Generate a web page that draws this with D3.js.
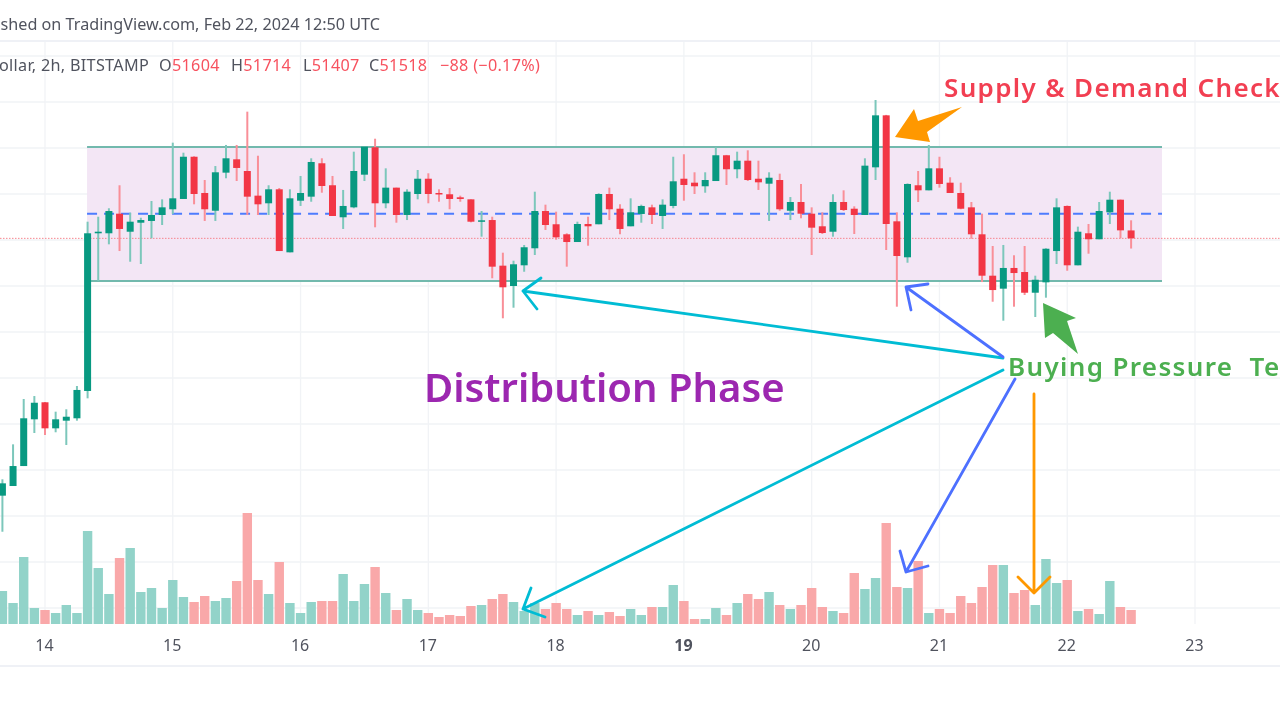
<!DOCTYPE html>
<html>
<head>
<meta charset="utf-8">
<script src="https://cdn.jsdelivr.net/npm/d3@7"></script>
<style>
html, body { margin: 0; padding: 0; background: #fff; overflow: hidden; }
svg { display: block; filter: blur(0.55px); font-family: "Noto Sans", sans-serif; }
</style>
</head>
<body>
<svg width="1280" height="720"></svg>
<script>
// 2h candles, first bar is Feb 13 16:00 UTC
var firstBar = new Date(Date.UTC(2024, 1, 13, 16));

var opens = [48721,48826,49043,49551,49736,49453,49536,49562,49859,51573,51573,51786,51590,51688,51707,51772,51834,51946,52405,52011,51818,52232,52377,52250,51982,51899,52051,51366,51927,51971,52334,52095,51747,51855,52210,52508,51899,52069,51772,52000,52166,52011,51997,51964,51942,51703,51717,51221,51000,51225,51410,51815,51671,51562,51478,51674,51671,52000,51840,51649,51783,51855,51761,51870,52166,52123,52084,52141,52421,52269,52362,52166,52112,52152,51818,51913,51786,51649,51590,51913,51840,51772,52290,52855,51703,51312,52095,52040,52279,52123,52011,51855,51562,51112,50971,51196,51152,50927,51040,51380,51870,51225,51573,51508,51801,51938,51604];
var highs = [48899,49279,49772,49804,49739,49634,49660,49913,51699,51753,51845,52095,51797,51742,51924,51942,52558,52449,52410,52152,52304,52533,52533,52895,52416,52095,52065,52051,52196,52388,52388,52196,52044,52460,52514,52601,52279,52069,52051,52261,52225,52051,52065,51982,51942,51815,51753,51362,51275,51446,52025,51884,51808,51573,51699,51753,52008,52069,51888,51953,51884,51884,51942,52405,52432,52236,52236,52508,52425,52460,52475,52362,52236,52221,51967,52109,51855,51801,51997,52040,51866,52388,53022,52860,51801,52115,52250,52533,52405,52182,52123,51913,51786,51435,51446,51334,51435,51112,51410,51953,51875,51645,51674,51913,52025,51940,51714];
var lows = [48329,48826,49043,49402,49380,49410,49272,49536,49779,51054,51453,51380,51264,51239,51518,51663,51783,51946,51888,51707,51707,52171,52141,51772,51772,51772,51380,51366,51870,51916,52014,51761,51620,51845,52141,51638,51845,51688,51717,51942,51899,51916,51834,51916,51692,51536,51084,50649,50764,51155,51337,51609,51503,51210,51478,51438,51671,51717,51562,51649,51688,51674,51620,51845,51927,52000,52014,52141,52098,52171,52141,52044,51707,51818,51717,51736,51337,51565,51536,51815,51565,51772,52152,51391,50775,51253,51913,52040,52069,52011,51834,51514,51043,50829,50623,50775,50902,50663,50873,51239,51166,51225,51351,51508,51674,51518,51407];
var closes = [48855,49043,49562,49731,49453,49551,49579,49870,51573,51590,51815,51620,51699,51717,51772,51855,51953,52405,52000,51834,52236,52388,52283,51971,51888,52051,51380,51953,52011,52348,52087,51761,51870,52250,52514,51899,52069,51772,52025,52166,52000,52000,51946,51946,51699,51714,51210,50986,51236,51421,51815,51663,51529,51478,51674,51649,52000,51834,51620,51801,51870,51772,51884,52138,52098,52084,52152,52421,52269,52362,52152,52127,52177,51834,51913,51786,51634,51576,51913,51826,51772,52308,52855,51674,51326,52109,52040,52279,52109,52011,51840,51562,51112,50956,51196,51141,50927,51068,51405,51855,51225,51590,51508,51815,51938,51605,51518];
var volumes = [33,21,67,16,14,11,19,11,93,56,30,66,76,32,36,16,44,27,22,28,23,26,43,111,44,30,62,21,11,22,23,23,50,23,40,57,31,14,25,14,11,7,9,8,18,19,25,30,22,13,21,15,21,15,9,13,9,12,8,15,9,17,17,39,23,5,5,16,9,21,30,25,32,19,15,19,36,17,13,11,51,35,46,101,37,36,63,11,15,11,28,21,37,59,59,31,34,19,65,41,44,13,15,10,43,17,14];

var dayTicks = [14,15,16,17,18,19,20,21,22,23];
var priceLevels = d3.range(47500, 54000, 500);

// zone drawn on the chart, in bars and prices
var zone = {fromBar: 7.95, toBar: 108.9, top: 52511, bottom: 51054, mid: 51786};
var lastClose = 51518;

var svg = d3.select("svg");

var x = d3.scaleUtc()
    .domain([new Date(Date.UTC(2024, 1, 14)), new Date(Date.UTC(2024, 1, 23))])
    .range([45, 1195]);
var y = d3.scaleLinear().domain([47500, 53500]).range([608, 56]);
var yVol = d3.scaleLinear().domain([0, 100]).range([624, 524]);

var barTime = i => new Date(+firstBar + i * 2 * 3600000);
var barX = i => x(barTime(i));
var isUp = i => closes[i] >= opens[i];
var green = "#089981", red = "#f23645";

// grid
svg.append("g").selectAll("line")
    .data(priceLevels)
    .enter().append("line")
    .attr("x1", 0).attr("x2", 1280)
    .attr("y1", d => y(d)).attr("y2", d => y(d))
    .attr("stroke", "#f1f3f6").attr("stroke-width", 1.3);

svg.append("g").selectAll("line")
    .data(dayTicks)
    .enter().append("line")
    .attr("x1", d => x(new Date(Date.UTC(2024, 1, d)))).attr("x2", d => x(new Date(Date.UTC(2024, 1, d))))
    .attr("y1", 41).attr("y2", 624)
    .attr("stroke", "#f1f3f6").attr("stroke-width", 1.3);

svg.append("line").attr("x1", 0).attr("x2", 1280).attr("y1", 41).attr("y2", 41)
    .attr("stroke", "#eff1f6").attr("stroke-width", 2);
svg.append("line").attr("x1", 0).attr("x2", 1280).attr("y1", 666).attr("y2", 666)
    .attr("stroke", "#eff1f6").attr("stroke-width", 2);

// distribution zone
var zoneX0 = barX(zone.fromBar), zoneX1 = barX(zone.toBar);
svg.append("rect")
    .attr("x", zoneX0).attr("width", zoneX1 - zoneX0)
    .attr("y", y(zone.top)).attr("height", y(zone.bottom) - y(zone.top))
    .attr("fill", "#f3e6f5");
[zone.top, zone.bottom].forEach(function(p){
    svg.append("line")
        .attr("x1", zoneX0).attr("x2", zoneX1)
        .attr("y1", y(p)).attr("y2", y(p))
        .attr("stroke", "#72b9ad").attr("stroke-width", 2);
});
svg.append("line")
    .attr("x1", zoneX0).attr("x2", zoneX1)
    .attr("y1", y(zone.mid)).attr("y2", y(zone.mid))
    .attr("stroke", "#4d7cfe").attr("stroke-width", 2)
    .attr("stroke-dasharray", "10 7");

// last price
svg.append("line")
    .attr("x1", 0).attr("x2", 1280)
    .attr("y1", y(lastClose)).attr("y2", y(lastClose))
    .attr("stroke", "#f7868f").attr("stroke-width", 1)
    .attr("stroke-dasharray", "1.5 1.5");

// volume
svg.append("g").selectAll("rect")
    .data(volumes)
    .enter().append("rect")
    .attr("x", (d, i) => barX(i) - 4.7)
    .attr("width", 9.4)
    .attr("y", d => yVol(d))
    .attr("height", d => yVol(0) - yVol(d))
    .attr("fill", (d, i) => isUp(i) ? "#92d3c9" : "#f9a8a9");

// candles
var candles = svg.append("g").selectAll("g")
    .data(opens)
    .enter().append("g");
candles.append("line")
    .attr("x1", (d, i) => barX(i)).attr("x2", (d, i) => barX(i))
    .attr("y1", (d, i) => y(highs[i])).attr("y2", (d, i) => y(lows[i]))
    .attr("stroke", (d, i) => isUp(i) ? "#7cc7bb" : "#f98f98")
    .attr("stroke-width", 2);
candles.append("rect")
    .attr("x", (d, i) => barX(i) - 3.5)
    .attr("width", 7)
    .attr("y", (d, i) => y(Math.max(opens[i], closes[i])))
    .attr("height", (d, i) => Math.max(1.5, Math.abs(y(opens[i]) - y(closes[i]))))
    .attr("fill", (d, i) => isUp(i) ? green : red);

// date axis, the 19th is a Monday and stays bold
var axis = d3.axisBottom(x)
    .tickValues(dayTicks.map(d => new Date(Date.UTC(2024, 1, d))))
    .tickFormat(d3.utcFormat("%-d"))
    .tickSize(0)
    .tickPadding(16);
var axisG = svg.append("g").attr("transform", "translate(-1,624)").call(axis);
axisG.select(".domain").remove();
axisG.selectAll("text")
    .style("font-family", "'Noto Sans', sans-serif")
    .style("font-size", "16px")
    .style("font-weight", d => d.getUTCDate() == 19 ? 700 : 400)
    .attr("fill", "#50535e");

// header, cut off at the left edge like the screenshot
var header = svg.append("g").style("font-size", "16.2px").attr("fill", "#50535e");
header.append("text").attr("x", 380).attr("y", 30).attr("text-anchor", "end")
    .text("Published on TradingView.com, Feb 22, 2024 12:50 UTC");
var legend = header.append("g").style("letter-spacing", "0.3px");
legend.append("text").attr("x", 149).attr("y", 71).attr("text-anchor", "end")
    .text("Bitcoin / U.S. Dollar, 2h, BITSTAMP");
var ohlc = [["O", "51604", 159], ["H", "51714", 231], ["L", "51407", 303], ["C", "51518", 369]];
ohlc.forEach(function(d){
    var t = legend.append("text").attr("x", d[2]).attr("y", 71);
    t.append("tspan").text(d[0]);
    t.append("tspan").attr("fill", "#f7525f").text(d[1]);
});
legend.append("text").attr("x", 440).attr("y", 71).attr("fill", "#f7525f").text("\u221288 (\u22120.17%)");

// hand drawn callouts
var arrows = [
    {color: "#00bcd4", from: [1003, 358], tip: [523, 291], barbs: [[541, 278], [537, 309]]},
    {color: "#00bcd4", from: [1003, 370], tip: [523, 609], barbs: [[531, 588], [545, 617]]},
    {color: "#4d70ff", from: [1003, 357], tip: [906, 287], barbs: [[928, 284], [911, 310]]},
    {color: "#4d70ff", from: [1015, 379], tip: [906, 572], barbs: [[900, 551], [928, 566]]},
    {color: "#ff9800", from: [1034, 394], tip: [1034, 593], barbs: [[1018, 577], [1050, 577]]}
];
var lineGen = d3.line();
svg.append("g").selectAll("path")
    .data(arrows)
    .enter().append("path")
    .attr("d", d => lineGen([d.from, d.tip]) + lineGen([d.barbs[0], d.tip, d.barbs[1]]))
    .attr("fill", "none")
    .attr("stroke", d => d.color)
    .attr("stroke-width", 2.8)
    .attr("stroke-linecap", "round")
    .attr("stroke-linejoin", "round");

svg.append("polygon")
    .attr("points", "895,137 914,109 918,121 962,107 927,132 930,142")
    .attr("fill", "#ff9800");
svg.append("polygon")
    .attr("points", "1043,303 1076,318 1067,321 1078,354 1053,333 1045,338")
    .attr("fill", "#4caf50");

var labels = [
    {text: "Supply & Demand Check", x: 944, y: 97, size: 26, spacing: 1.35, color: "#f23f52"},
    {text: "Buying Pressure\u00a0\u00a0Test", x: 1008, y: 376, size: 26, spacing: 1.35, color: "#4caf50"},
    {text: "Distribution Phase", x: 424, y: 402, size: 40, spacing: 0, color: "#9c27b0"}
];
svg.append("g").selectAll("text")
    .data(labels)
    .enter().append("text")
    .attr("x", d => d.x).attr("y", d => d.y)
    .attr("fill", d => d.color)
    .style("font-size", d => d.size + "px")
    .style("font-weight", 600)
    .style("letter-spacing", d => d.spacing + "px")
    .text(d => d.text);
</script>
</body>
</html>
